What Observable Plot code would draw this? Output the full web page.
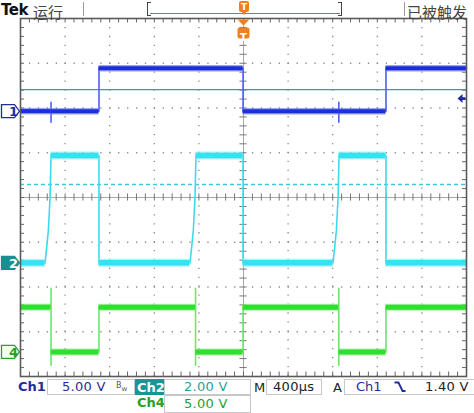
<!DOCTYPE html>
<html><head><meta charset="utf-8">
<script src="https://cdn.jsdelivr.net/npm/d3@7"></script>
<script src="https://cdn.jsdelivr.net/npm/@observablehq/plot@0.6"></script>
<style>
body{margin:0;background:#fff;}
#wrap{position:relative;width:474px;height:413px;overflow:hidden;font-family:"DejaVu Sans",sans-serif;background:#fff;}
#wrap svg{position:absolute;left:0;top:0;}
.a{position:absolute;white-space:nowrap;line-height:1;}
.box{position:absolute;border:1px solid #c8c8c8;box-sizing:border-box;background:#fff;}
.sep{position:absolute;width:1px;background:#9a9a9a;}
.lab{font-weight:bold;font-size:13px;}
.val{font-size:13px;letter-spacing:0.3px;}
</style></head><body><div id="wrap"></div>
<script>
// ---- scope settings ----
const channels = ["Ch1", "Ch2", "Ch4"];
const channelTags = ["1", "2", "4"];
const voltsPerDiv = [5, 2, 5];
const groundDiv = [1.93, -1.46, -3.45];
const timePerDiv = 400;          // µs / div
const triggerTime = 0;           // µs
const triggerLevel = 1.40;       // V on Ch1
const cursorLevelCh1 = 2.4;      // V (solid teal line)
const refLevelCh2 = 3.5;         // V (dashed cyan line)

// ---- waveforms (time µs, volts) ----
const ch1Time = [-2000, -1726, -1726, -1726, -1726, -1296, -1296, -4, -4, 855, 855, 855, 855, 1278, 1278, 2000];
const ch1Volt = [0, 0, 1.0, -1.25, 0, 0, 4.8, 4.8, 0, 0, 1.0, -1.25, 0, 0, 4.8, 4.8];

const ch2Time = [-2000, -1780, -1765, -1750, -1735, -1726, -1296, -1296, -480, -465, -450, -435, -426, -4, -4, 803, 818, 833, 848, 857, 1278, 1278, 2000];
const ch2Volt = [0, 0, 0.7, 1.45, 2.9, 4.8, 4.8, 0, 0, 0.7, 1.45, 2.9, 4.8, 4.8, 0, 0, 0.7, 1.45, 2.9, 4.8, 4.8, 0, 0];

const ch4Time = [-2000, -1726, -1726, -1726, -1726, -1296, -1296, -430, -430, -430, -430, -4, -4, 855, 855, 855, 855, 1278, 1278, 2000];
const ch4Volt = [5, 5, 7.1, -1.5, 0, 0, 5, 5, 7.1, -1.5, 0, 0, 5, 5, 7.1, -1.5, 0, 0, 5, 5];

// ---- styles ----
const traceStyle = [
  {core: "#1c2fd8", halo: "#6f7ff0", edge: "#4f60ee", width: 4, haloWidth: 6.5},
  {core: "#35e2f0", halo: "#8ef0f7", edge: "#3fd9ee", width: 5.5, haloWidth: 8},
  {core: "#2ee02e", halo: "#8ff08f", edge: "#6ee66e", width: 5, haloWidth: 7}
];
const tagStyle = [
  {fill: "#ffffff", stroke: "#1f2c9c", text: "#1f2c9c"},
  {fill: "#1a8f8f", stroke: "#1a8f8f", text: "#ffffff"},
  {fill: "#f6fff6", stroke: "#2aa02a", text: "#2aa02a"}
];

const waves = [[ch1Time, ch1Volt], [ch2Time, ch2Volt], [ch4Time, ch4Volt]];
const toDiv = (ci, v) => groundDiv[ci] + v / voltsPerDiv[ci];

const tMin = -5 * timePerDiv, tMax = 5 * timePerDiv;
const minorT = d3.range(-25, 26).map(i => i * timePerDiv / 5);
const minorV = d3.range(-20, 21).map(i => i / 5);
const majorT = d3.range(-4, 5).filter(i => i !== 0).map(i => i * timePerDiv);
const majorV = d3.range(-3, 4).filter(i => i !== 0);

const marks = [];
// grid
marks.push(Plot.ruleX(majorT, {stroke: "#8c8c8c", strokeWidth: 1.3, strokeDasharray: "1.3,7.62"}));
marks.push(Plot.ruleY(majorV, {stroke: "#8c8c8c", strokeWidth: 1.3, strokeDasharray: "1.3,7.62"}));
marks.push(Plot.ruleX([0], {stroke: "#a8a8a8", strokeWidth: 1}));
marks.push(Plot.ruleY([0], {stroke: "#a8a8a8", strokeWidth: 1}));
marks.push(Plot.ruleX(minorT, {y1: -0.08, y2: 0.08, stroke: "#777", strokeWidth: 1}));
marks.push(Plot.ruleY(minorV, {x1: -32, x2: 32, stroke: "#777", strokeWidth: 1}));
marks.push(Plot.ruleX(minorT, {y1: 4, y2: 3.9, stroke: "#666", strokeWidth: 1}));
marks.push(Plot.ruleX(minorT, {y1: -4, y2: -3.9, stroke: "#666", strokeWidth: 1}));
marks.push(Plot.ruleY(minorV, {x1: tMin, x2: tMin + 36, stroke: "#666", strokeWidth: 1}));
marks.push(Plot.ruleY(minorV, {x1: tMax - 36, x2: tMax, stroke: "#666", strokeWidth: 1}));
// reference lines
marks.push(Plot.ruleY([toDiv(0, cursorLevelCh1)], {stroke: "#3a9d9d", strokeWidth: 1.3}));
marks.push(Plot.ruleY([toDiv(1, refLevelCh2)], {stroke: "#3cc6e2", strokeWidth: 1.3, strokeDasharray: "4,3"}));

// traces
waves.forEach(([ts, vs], ci) => {
  const pts = ts.map((t, i) => ({t, y: toDiv(ci, vs[i])}));
  const levels = [];
  for (let i = 0; i < ts.length - 1; i++) {
    if (vs[i] === vs[i + 1] && ts[i] !== ts[i + 1]) levels.push({t1: ts[i], t2: ts[i + 1], y: toDiv(ci, vs[i])});
  }
  const s = traceStyle[ci];
  marks.push(Plot.line(pts, {x: "t", y: "y", stroke: s.edge, strokeWidth: 1.6, curve: "linear"}));
  marks.push(Plot.ruleY(levels, {y: "y", x1: "t1", x2: "t2", stroke: s.halo, strokeWidth: s.haloWidth, strokeOpacity: 0.7}));
  marks.push(Plot.ruleY(levels, {y: "y", x1: "t1", x2: "t2", stroke: s.core, strokeWidth: s.width}));
});

// frame
marks.push(Plot.frame({stroke: "#5a5a5a", strokeWidth: 1.6}));

// channel tags
const tagSymbol = {draw(ctx) {
  ctx.moveTo(-19, -6.5); ctx.lineTo(-6, -6.5); ctx.lineTo(-1, 0); ctx.lineTo(-6, 6.5); ctx.lineTo(-19, 6.5); ctx.closePath();
}};
channelTags.forEach((tag, ci) => {
  const row = [{tag, y: groundDiv[ci]}];
  const st = tagStyle[ci];
  marks.push(Plot.dot(row, {y: "y", frameAnchor: "left", symbol: tagSymbol, fill: st.fill, stroke: st.stroke, strokeWidth: 1.3}));
  marks.push(Plot.text(row, {y: "y", text: "tag", frameAnchor: "left", dx: -11.5, dy: 0.5, fill: st.text, fontWeight: "bold", fontSize: 13, fontFamily: "DejaVu Sans"}));
});

// trigger level arrow (right edge)
const arrowSymbol = {draw(ctx) {
  ctx.moveTo(-9, 0); ctx.lineTo(-4, -4.5); ctx.lineTo(-4, -1.3); ctx.lineTo(-1, -1.3); ctx.lineTo(-1, 1.3); ctx.lineTo(-4, 1.3); ctx.lineTo(-4, 4.5); ctx.closePath();
}};
marks.push(Plot.dot([triggerLevel], {y: v => toDiv(0, v), frameAnchor: "right", symbol: arrowSymbol, fill: "#1f2c9c"}));

// trigger position marker (top)
const trigSymbol = {draw(ctx) {
  ctx.moveTo(-6, 1); ctx.lineTo(6, 1); ctx.lineTo(0, 7); ctx.closePath();
  ctx.moveTo(-4, 9); ctx.lineTo(4, 9); ctx.arcTo(6, 9, 6, 11, 2); ctx.lineTo(6, 18); ctx.arcTo(6, 20, 4, 20, 2);
  ctx.lineTo(-4, 20); ctx.arcTo(-6, 20, -6, 18, 2); ctx.lineTo(-6, 11); ctx.arcTo(-6, 9, -4, 9, 2); ctx.closePath();
}};
marks.push(Plot.dot([triggerTime], {x: d => d, frameAnchor: "top", symbol: trigSymbol, fill: "#f0801e"}));
marks.push(Plot.text([triggerTime], {x: d => d, frameAnchor: "top", text: () => "T", dy: 15, fill: "#fff", fontWeight: "bold", fontSize: 10, fontFamily: "DejaVu Sans"}));

const chart = Plot.plot({
  width: 474, height: 413,
  marginLeft: 20, marginRight: 8, marginTop: 18, marginBottom: 37,
  x: {domain: [tMin, tMax], axis: null},
  y: {domain: [-4, 4], axis: null},
  style: {background: "#fff", overflow: "visible"},
  marks
});
const wrap = document.getElementById("wrap");
wrap.appendChild(chart);

// ---- status bars (HTML overlay) ----
function el(cls, style, html) {
  const d = document.createElement("div");
  d.className = cls; d.setAttribute("style", style); if (html != null) d.innerHTML = html;
  wrap.appendChild(d); return d;
}
// top bar
el("a", "left:1px;top:1px;font:bold 15px 'DejaVu Sans';color:#111;letter-spacing:-0.5px", "Tek");
el("a", "left:33px;top:1px;font:15px 'Noto Sans CJK SC';color:#444", "运行");
el("sep", "left:83px;top:2px;height:14px");
el("a", "left:147px;top:2px;width:3px;height:12px;border:1.4px solid #444;border-right:none", "");
el("a", "left:150px;top:12.5px;width:190px;height:1.6px;background:#3a9d9d", "");
el("a", "left:338px;top:2px;width:3px;height:12px;border:1.4px solid #444;border-left:none", "");
el("a", "left:239px;top:1px;width:10px;height:11px;background:#f0801e;border-radius:2px;color:#fff;font:bold 9px 'DejaVu Sans';text-align:center;padding-top:1px;box-sizing:border-box", "T");
el("a", "left:241px;top:11px;width:0;height:0;border-left:3px solid transparent;border-right:3px solid transparent;border-top:4px solid #f0801e", "");
el("sep", "left:404px;top:2px;height:14px");
el("a", "left:407px;top:1px;font:15px 'Noto Sans CJK SC';color:#444", "已被触发");

// bottom bar
el("a lab", "left:18px;top:380px;color:#1f2c9c", channels[0]);
el("box", "left:47px;top:379px;width:88px;height:16px");
el("a val", "left:62px;top:380px;color:#1f2c9c", voltsPerDiv[0].toFixed(2) + " V");
el("a", "left:116px;top:381px;font:8px 'DejaVu Sans';color:#556", "B<sub style='font-size:7px'>w</sub>");
el("a lab", "left:135px;top:379px;width:29px;height:16px;background:#1a9494;color:#fff;padding:2px 0 0 2px;box-sizing:border-box", channels[1]);
el("box", "left:164px;top:379px;width:87px;height:16px");
el("a val", "left:184px;top:380px;color:#2aa0a0", voltsPerDiv[1].toFixed(2) + " V");
el("a lab", "left:137px;top:396px;color:#2aa02a", channels[2]);
el("box", "left:164px;top:395px;width:87px;height:18px");
el("a val", "left:184px;top:397px;color:#2aa02a", voltsPerDiv[2].toFixed(2) + " V");
el("a", "left:254px;top:380px;font:13px 'DejaVu Sans';color:#222", "M");
el("box", "left:266px;top:379px;width:56px;height:16px");
el("a val", "left:273px;top:380px;color:#222", timePerDiv + "µs");
el("a", "left:333px;top:380px;font:13px 'DejaVu Sans';color:#222", "A");
el("box", "left:344px;top:379px;width:132px;height:16px");
el("a lab", "left:356px;top:380px;color:#1f2c9c;font-weight:normal", channels[0]);
el("a", "left:394px;top:381px", "<svg width='12' height='11'><path d='M0.5,1.5 H4.5 L8.5,10 H11.5' fill='none' stroke='#1f2c9c' stroke-width='1.8'/></svg>");
el("a val", "left:425px;top:380px;color:#222", triggerLevel.toFixed(2) + " V");
</script></body></html>
